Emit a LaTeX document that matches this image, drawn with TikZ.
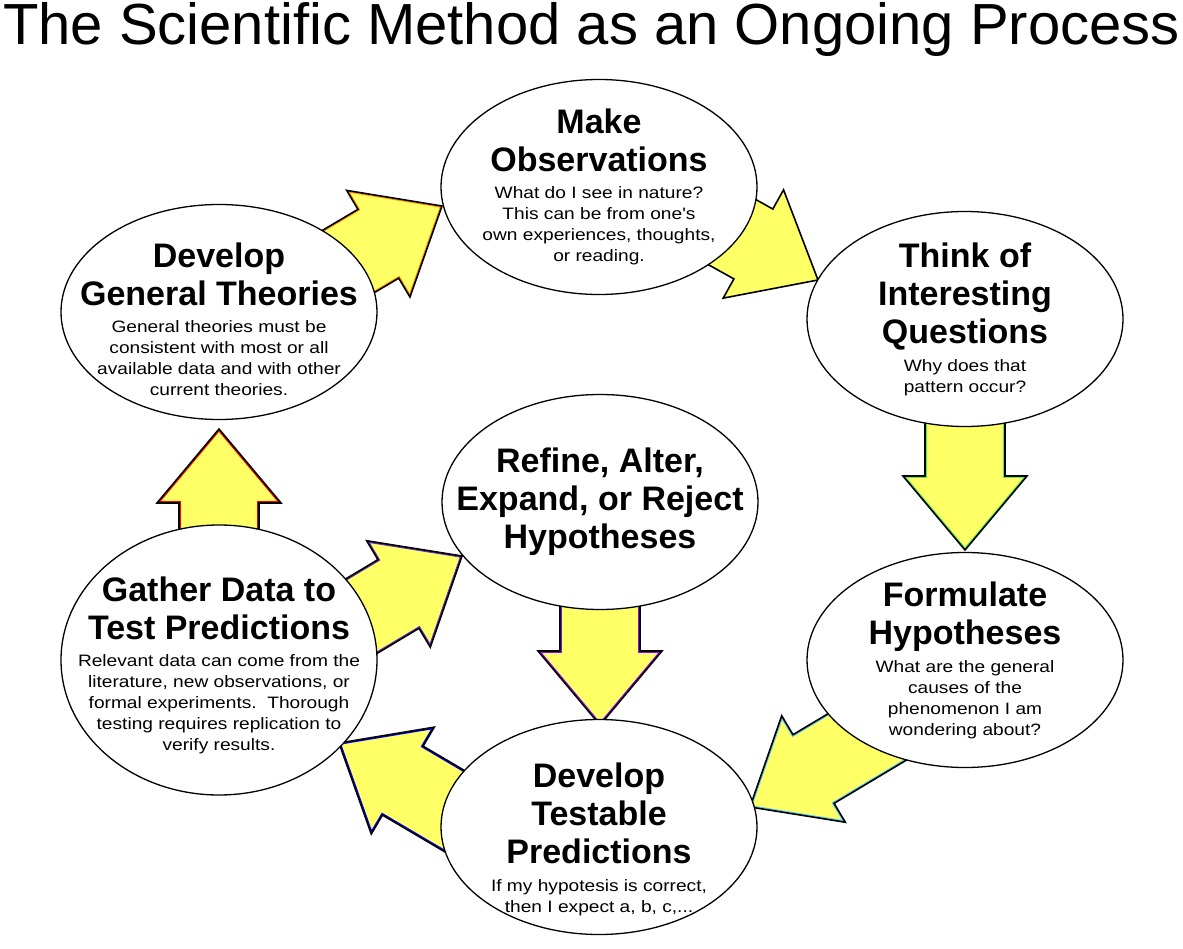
\documentclass[tikz,border=0pt]{standalone}
\usepackage{fontspec}
\setmainfont{Liberation Sans}
\newfontfamily\bodyfont[FakeStretch=1.16,Ligatures=TeXOff]{Liberation Sans}
\usetikzlibrary{calc,shapes.geometric}
\definecolor{arrowyellow}{HTML}{FFFF66}
\definecolor{tintorange}{HTML}{FF9900}
\definecolor{tintgreen}{HTML}{55EE55}
\definecolor{tintcyan}{HTML}{55CCFF}
\definecolor{tintblue}{HTML}{0000FF}
\definecolor{tintpurple}{HTML}{6633CC}
\definecolor{tintviolet}{HTML}{9900FF}
\definecolor{tintred}{HTML}{FF0000}
\tikzset{
  stage/.style={draw=black,line width=1.3pt,fill=white,ellipse,minimum width=316pt,minimum height=215pt,inner sep=0pt},
  headtext/.style={font=\fontsize{34}{38}\selectfont\bfseries,align=center,inner sep=0pt,anchor=north},
  bodytext/.style={font=\bodyfont\fontsize{16.5}{21}\selectfont,align=center,inner sep=0pt,anchor=north},
  titletext/.style={font=\fontsize{58}{60}\selectfont,inner sep=0pt,anchor=base},
}
\newcommand\blockarrow[3]{%
  \path let \p1=(#1), \p2=(#2) in \pgfextra{%
    \pgfmathsetmacro\baang{atan2(\y2-\y1,\x2-\x1)}%
    \pgfmathsetmacro\balen{veclen(\x2-\x1,\y2-\y1)}%
    \xdef\baang{\baang}\xdef\balen{\balen}};
  \begin{scope}[shift={(#1)},rotate=\baang]
    \def\bapath{(0,-40) -- (\balen-74,-40) -- (\balen-74,-62) -- (\balen,0) -- (\balen-74,62) -- (\balen-74,40) -- (0,40) -- cycle}
    \begin{scope}
      \clip \bapath;
      \fill[arrowyellow] \bapath;
      \draw[#3,line width=3.6pt] \bapath;
    \end{scope}
    \draw[black,line width=1.6pt,line join=miter] \bapath;
  \end{scope}}
\begin{document}
\begin{tikzpicture}[x=1pt,y=1pt]
\fill[white] (0,0) rectangle (1183,-949);
\useasboundingbox (0,0) rectangle (1183,-949);

\node[titletext] (title) at (591.5,-44.5) {The Scientific Method as an Ongoing Process};

% arrow end points
\coordinate (a1t) at (270,-308);  \coordinate (a1h) at (442,-206);
\coordinate (a2t) at (626,-173);  \coordinate (a2h) at (818,-280);
\coordinate (a3t) at (965,-380);  \coordinate (a3h) at (965,-550);
\coordinate (a4t) at (939,-694);  \coordinate (a4h) at (750,-807);
\coordinate (a5t) at (529,-855);  \coordinate (a5h) at (339,-743);
\coordinate (a6t) at (219,-620);  \coordinate (a6h) at (219,-429);
\coordinate (a7t) at (273,-669);  \coordinate (a7h) at (462,-556);
\coordinate (a8t) at (600,-540);  \coordinate (a8h) at (600,-725);

\blockarrow{a1t}{a1h}{tintorange}
\blockarrow{a2t}{a2h}{arrowyellow}
\blockarrow{a3t}{a3h}{tintgreen}
\blockarrow{a4t}{a4h}{tintcyan}
\blockarrow{a5t}{a5h}{tintblue}
\blockarrow{a6t}{a6h}{tintred}
\blockarrow{a7t}{a7h}{tintpurple}
\blockarrow{a8t}{a8h}{tintviolet}

% stages
\node[stage] (obs) at (599,-187) {};
\node[stage] (quest) at (965,-319) {};
\node[stage] (hyp) at (965,-660) {};
\node[stage] (pred) at (599,-827) {};
\node[stage,minimum height=270pt] (gather) at (219,-660) {};
\node[stage] (theory) at (219,-312) {};
\node[stage] (refine) at (600,-502) {};

% texts
\node[headtext] (obsH) at (599,-109) {Make\\Observations};
\node[bodytext] (obsB) at (599,-186) {What do I see in nature?\\This can be from one's\\own experiences, thoughts,\\or reading.};

\node[headtext] (questH) at (965,-243) {Think of\\Interesting\\Questions};
\node[bodytext] (questB) at (965,-359) {Why does that\\pattern occur?};

\node[headtext] (hypH) at (965,-582) {Formulate\\Hypotheses};
\node[bodytext] (hypB) at (965,-660) {What are the general\\causes of the\\phenomenon I am\\wondering about?};

\node[headtext] (predH) at (599,-763) {Develop\\Testable\\Predictions};
\node[bodytext] (predB) at (599,-879) {If my hypotesis is correct,\\then I expect a, b, c,...};

\node[headtext] (gatherH) at (219,-577) {Gather Data to\\Test Predictions};
\node[bodytext] (gatherB) at (219,-654) {Relevant data can come from the\\literature, new observations, or\\formal experiments.\ \ Thorough\\testing requires replication to\\verify results.};

\node[headtext] (theoryH) at (219,-243) {Develop\\General Theories};
\node[bodytext] (theoryB) at (219,-320) {General theories must be\\consistent with most or all\\available data and with other\\current theories.};

\node[headtext] (refineH) at (600,-448) {Refine, Alter,\\Expand, or Reject\\Hypotheses};
\end{tikzpicture}
\end{document}
